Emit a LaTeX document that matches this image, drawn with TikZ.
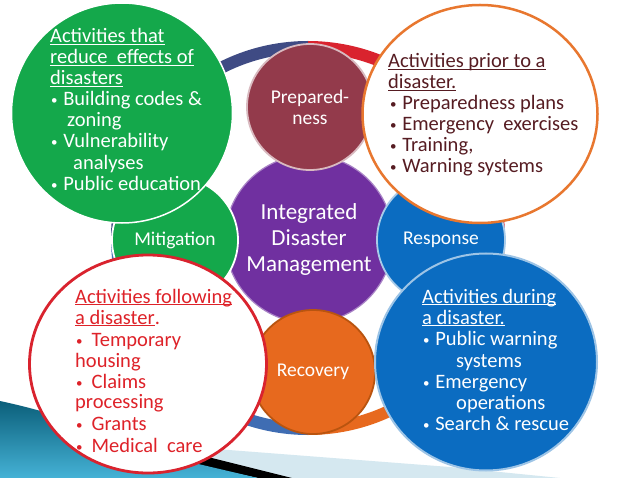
\documentclass[tikz,border=0pt]{standalone}
\usepackage{fontspec}
\setmainfont{Carlito}
\usetikzlibrary{shapes.geometric}
\definecolor{cgreen}{HTML}{14A84B}
\definecolor{cmaroon}{HTML}{933A4B}
\definecolor{cpurple}{HTML}{7030A0}
\definecolor{cblue}{HTML}{0B6CC1}
\definecolor{corange}{HTML}{E7691E}
\definecolor{corangedk}{HTML}{B9540F}
\definecolor{cnavy}{HTML}{3F4B84}
\definecolor{cred}{HTML}{D9232E}
\definecolor{cringblue}{HTML}{3F6DB3}
\definecolor{cborderor}{HTML}{E8772F}
\definecolor{ctextmar}{HTML}{561C22}
\definecolor{ctextred}{HTML}{DE2229}
\definecolor{ctealdk}{HTML}{0B5F7A}
\definecolor{cteallt}{HTML}{45B2D6}
\definecolor{clightband}{HTML}{D5E8F0}
\newcommand{\myul}[1]{\setbox0=\hbox{#1}\rlap{\rule[-2.2bp]{\wd0}{1.1bp}}\box0}
\newcommand{\bul}{{\fontsize{13bp}{13bp}\selectfont\raisebox{1bp}{•}}\hspace{1bp}}
\tikzset{
  sat/.style={circle, minimum size=#1, inner sep=0pt, text=white, align=center,
    font=\fontsize{19.5bp}{21bp}\selectfont, line width=1.8bp},
  callout/.style={ellipse, inner sep=0pt},
  ln/.style={anchor=base west, inner sep=0pt, font=\fontsize{20.5bp}{21bp}\selectfont},
  ring/.style={line width=12bp},
}
\begin{document}
\begin{tikzpicture}[x=1bp,y=-1bp]
\useasboundingbox (0,0) rectangle (638,478);
\fill[white] (0,0) rectangle (638,478);
% background swoosh
\fill[clightband] (190,447) -- (450,467) -- (560,478) -- (190,478) -- cycle;
\fill[black] (188,452) -- (292,478) -- (258,478) -- (188,463) -- cycle;
\shade[left color=ctealdk, right color=cteallt, shading angle=0]
  (0,401) .. controls (80,418) and (140,447) .. (194,463) -- (258,478) -- (0,478) -- cycle;
% ring
\coordinate (rc) at (308,238);
\draw[ring, cnavy] (rc) ++(90:191bp) arc[start angle=90, end angle=180, radius=191bp];
\draw[ring, cred] (rc) ++(0:191bp) arc[start angle=0, end angle=90, radius=191bp];
\draw[ring, corange] (rc) ++(270:191bp) arc[start angle=270, end angle=360, radius=191bp];
\draw[ring, cringblue] (rc) ++(180:191bp) arc[start angle=180, end angle=270, radius=191bp];
% core
\node[circle, minimum size=168bp, inner sep=0pt, fill=cpurple, draw=cpurple!60!white, line width=1.2bp,
  text=white, align=center, font=\fontsize{23bp}{26bp}\selectfont] (core) at (309,239)
  {Integrated\\Disaster\\Management};
% satellites
\node[sat=126bp, fill=cmaroon, draw=cmaroon!35!white] (prep) at (310,107) {Prepared-\\ness};
\node[sat=126bp, fill=cgreen, draw=white] (mitig) at (175,240) {Mitigation};
\node[sat=128bp, fill=cblue, draw=cblue!35!white] (resp) at (441,240) {Response};
\node[sat=124bp, fill=corange, draw=corangedk] (recov) at (313,372) {Recovery};
% callouts
\node[callout, minimum width=221bp, minimum height=220bp, fill=cgreen, draw=white, line width=1.5bp] (cg) at (122,113) {};
\node[callout, minimum width=235bp, minimum height=218bp, fill=white, draw=cborderor, line width=2.5bp] (cp) at (480,114) {};
\node[callout, minimum width=237bp, minimum height=218bp, fill=white, draw=cred, line width=2.8bp] (cr) at (148,364) {};
\node[callout, minimum width=222bp, minimum height=217bp, fill=cblue, draw=cblue!40!white, line width=2bp] (cb) at (486,362) {};
% green callout text
\begin{scope}[every node/.style={ln, text=white}]
\node (g1) at (50,43) {\myul{Activities that}};
\node (g2) at (50,64) {\myul{reduce\ \ effects of}};
\node (g3) at (50,85) {\myul{disasters}};
\node (g4) at (51,106) {\bul\ Building codes \&};
\node (g5) at (67,127) {zoning};
\node (g6) at (51,148) {\bul\ Vulnerability};
\node (g7) at (73,170) {analyses};
\node (g8) at (51,191) {\bul\ Public education};
\end{scope}
% preparedness callout text
\begin{scope}[every node/.style={ln, text=ctextmar}]
\node (p1) at (388,68) {\myul{Activities prior to a}};
\node (p2) at (388,89) {\myul{disaster.}};
\node (p3) at (390,110) {\bul\ Preparedness plans};
\node (p4) at (390,131) {\bul\ Emergency\ \ exercises};
\node (p5) at (390,152) {\bul\ Training,};
\node (p6) at (390,173) {\bul\ Warning systems};
\end{scope}
% recovery callout text
\begin{scope}[every node/.style={ln, text=ctextred}]
\node (r1) at (75,303) {\myul{Activities following}};
\node (r2) at (75,324) {\myul{a disaster}.};
\node (r3) at (76,346) {\bul\hspace{8bp}Temporary};
\node (r4) at (75,367) {housing};
\node (r5) at (76,388) {\bul\hspace{8bp}Claims};
\node (r6) at (75,408) {processing};
\node (r7) at (76,430) {\bul\hspace{8bp}Grants};
\node (r8) at (76,452) {\bul\hspace{8bp}Medical\ \ care};
\end{scope}
% response callout text
\begin{scope}[every node/.style={ln, text=white}]
\node (b1) at (422,303) {\myul{Activities during}};
\node (b2) at (422,324) {\myul{a disaster.}};
\node (b3) at (423,345) {\bul\ Public warning};
\node (b4) at (456,367) {systems};
\node (b5) at (423,388) {\bul\ Emergency};
\node (b6) at (456,409) {operations};
\node (b7) at (423,430) {\bul\ Search \& rescue};
\end{scope}
\end{tikzpicture}
\end{document}
